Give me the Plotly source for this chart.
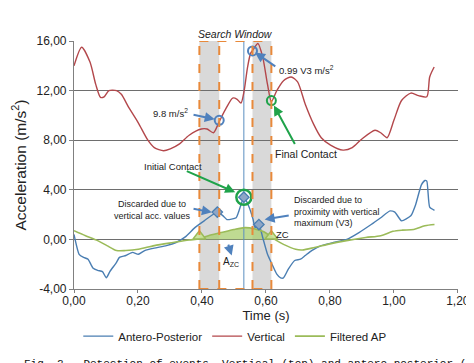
import plotly.graph_objects as go

# ---------------- data ----------------
t_vert = [0.0, 0.024, 0.05, 0.068, 0.083, 0.094, 0.109, 0.133, 0.148, 0.172, 0.201, 0.231, 0.251,
          0.28, 0.301, 0.33, 0.36, 0.398, 0.416, 0.436, 0.454, 0.476, 0.496, 0.51, 0.522, 0.532,
          0.542, 0.552, 0.56, 0.575, 0.59, 0.605, 0.617, 0.634, 0.655, 0.679, 0.699, 0.723, 0.749,
          0.773, 0.802, 0.841, 0.87, 0.9, 0.941, 0.959, 0.979, 1.0, 1.024, 1.053, 1.077, 1.103,
          1.112, 1.126]
vertical = [14.0, 15.5, 14.3, 12.5, 11.45, 11.5, 12.0, 12.0, 11.7, 10.6, 9.4, 8.0, 7.4,
            7.15, 7.3, 7.7, 8.4, 8.9, 8.9, 8.6, 9.5, 10.6, 11.4, 11.3, 11.0, 12.0,
            13.8, 15.0, 15.3, 15.8, 14.7, 12.5, 11.1, 12.0, 12.8, 13.1, 12.7, 10.9, 9.3,
            8.2, 7.6, 7.2, 7.4, 8.1, 8.8, 8.6, 8.2, 9.6, 11.2, 11.8, 11.6, 11.5,
            13.1, 13.9]

t_ap = [0.0, 0.016, 0.03, 0.044, 0.059, 0.074, 0.089, 0.101, 0.112, 0.133, 0.142, 0.162, 0.183,
        0.201, 0.221, 0.251, 0.289, 0.319, 0.348, 0.378, 0.407, 0.448, 0.466, 0.478, 0.507,
        0.522, 0.531, 0.546, 0.56, 0.566, 0.578, 0.59, 0.605, 0.619,
        0.634, 0.646, 0.655, 0.67, 0.69, 0.708, 0.723, 0.743, 0.773, 0.811, 0.853, 0.891,
        0.929, 0.959, 0.988, 1.003, 1.024, 1.053, 1.068, 1.086, 1.097, 1.103, 1.112, 1.127]
antero_posterior = [0.4, -1.2, -1.45, -1.6, -2.3, -2.5, -2.6, -3.1, -2.6, -1.85, -1.45, -1.3, -1.05,
                    -1.2, -0.9, -0.7, -0.5, -0.25, 0.2, 0.95, 1.5, 2.2, 1.9, 1.6, 1.75,
                    2.8, 3.4, 2.7, 1.6, 0.95, 1.2, 0.15, -1.2, -2.0,
                    -2.8, -3.1, -3.1, -2.4, -1.7, -1.6, -1.3, -0.9, -0.5, -0.25, 0.0, 0.55,
                    1.2, 1.75, 2.3, 2.2, 1.5, 1.9, 2.8, 4.4, 4.75, 4.7, 2.6, 2.35]
# impact spike of the AP signal at initial contact (exceeds the axis range)
t_ap_spike = [0.531, 0.531]
ap_spike = [-10.0, 25.0]

t_filt = [0.0, 0.036, 0.074, 0.103, 0.133, 0.162, 0.201, 0.251, 0.31, 0.36, 0.392, 0.42, 0.46,
          0.5, 0.535, 0.565, 0.595, 0.617, 0.634, 0.655, 0.693, 0.714, 0.752, 0.793, 0.852,
          0.912, 0.959, 0.997, 1.027, 1.062, 1.097, 1.127]
filtered_ap = [0.7, 0.3, -0.1, -0.5, -0.9, -0.9, -0.8, -0.5, -0.25, -0.05, 0.05, 0.3, 0.55,
               0.8, 0.95, 0.85, 0.6, 0.2, -0.1, -0.4, -0.8, -0.85, -0.65, -0.4, -0.1,
               0.15, 0.3, 0.65, 0.75, 0.8, 1.1, 1.2]

# detected points
zc_t = [0.392, 0.617]
zc_y = [0.25, 0.25]
vert_circ_t = [0.454, 0.558]
vert_circ_y = [9.6, 15.2]
final_t, final_y = 0.617, 11.2
init_t, init_y = 0.531, 3.4
disc_t = [0.448, 0.578]
disc_y = [2.2, 1.2]

window_edges = [0.392, 0.454, 0.558, 0.617]

x_ticks = [0.0, 0.2, 0.4, 0.6, 0.8, 1.0, 1.2]
x_tick_text = ["0,00", "0,20", "0,40", "0,60", "0,80", "1,00", "1,20"]
y_ticks = [-4, 0, 4, 8, 12, 16]
y_tick_text = ["-4,00", "0,00", "4,00", "8,00", "12,00", "16,00"]

BLUE = "#4a7eb2"
RED = "#b3474b"
GREEN = "#9bbb59"
ORANGE = "#e8893a"
ARROW_BLUE = "#4f81bd"
ARROW_GREEN = "#1fa34a"
FONT = "Liberation Sans, Arial, sans-serif"

fig = go.Figure()

# filled zero-crossing area
i0 = t_filt.index(window_edges[0])
i1 = t_filt.index(window_edges[3])
fig.add_trace(go.Scatter(x=t_filt[i0:i1 + 1], y=filtered_ap[i0:i1 + 1], mode="lines",
                         line=dict(color=GREEN, width=0, shape="spline", smoothing=0.8),
                         fill="tozeroy", fillcolor="rgba(170,205,110,0.75)",
                         showlegend=False, hoverinfo="skip"))

fig.add_trace(go.Scatter(x=t_ap, y=antero_posterior, mode="lines", name="Antero-Posterior",
                         legendgroup="ap",
                         line=dict(color=BLUE, width=1.4, shape="spline", smoothing=0.5)))
fig.add_trace(go.Scatter(x=t_ap_spike, y=ap_spike, mode="lines", showlegend=False,
                         legendgroup="ap", line=dict(color="#5b8ec0", width=1)))
fig.add_trace(go.Scatter(x=t_vert, y=vertical, mode="lines", name="Vertical",
                         line=dict(color=RED, width=1.4, shape="spline", smoothing=0.7)))
fig.add_trace(go.Scatter(x=t_filt, y=filtered_ap, mode="lines", name="Filtered AP",
                         line=dict(color=GREEN, width=1.6, shape="spline", smoothing=0.8)))

# markers
fig.add_trace(go.Scatter(x=zc_t, y=zc_y, mode="markers", showlegend=False,
                         marker=dict(symbol="triangle-up", size=11, color="rgba(200,225,150,0.9)",
                                     line=dict(color=GREEN, width=1.5))))
fig.add_trace(go.Scatter(x=disc_t + [init_t], y=disc_y + [init_y], mode="markers", showlegend=False,
                         marker=dict(symbol="diamond", size=8, color="#8fa6c6",
                                     line=dict(color=BLUE, width=1.3))))
fig.add_trace(go.Scatter(x=[init_t], y=[init_y], mode="markers", showlegend=False,
                         marker=dict(symbol="circle-open", size=15, color=ARROW_GREEN,
                                     line=dict(color=ARROW_GREEN, width=2.5))))
fig.add_trace(go.Scatter(x=vert_circ_t, y=vert_circ_y, mode="markers", showlegend=False,
                         marker=dict(symbol="circle-open", size=9, color=ARROW_BLUE,
                                     line=dict(color=ARROW_BLUE, width=2))))
fig.add_trace(go.Scatter(x=[final_t], y=[final_y], mode="markers", showlegend=False,
                         marker=dict(symbol="circle-open", size=9, color=ARROW_GREEN,
                                     line=dict(color=ARROW_GREEN, width=2))))

# search window shapes
shapes = []
for a, b in [(window_edges[0], window_edges[1]), (window_edges[2], window_edges[3])]:
    shapes.append(dict(type="rect", xref="x", yref="y", x0=a, x1=b, y0=-4, y1=16,
                       fillcolor="#d9d9d9", line=dict(width=0), layer="below"))
for e in window_edges:
    shapes.append(dict(type="line", xref="x", yref="y", x0=e, x1=e, y0=-4, y1=16,
                       line=dict(color=ORANGE, width=2, dash="dash"), layer="above"))
for yy in (16, -4):
    shapes.append(dict(type="line", xref="x", yref="y", x0=window_edges[0], x1=window_edges[3],
                       y0=yy, y1=yy, line=dict(color=ORANGE, width=2, dash="dash"), layer="above"))

ann = []
def label(x, y, text, size=9.5, align="center", xanchor="center"):
    ann.append(dict(x=x, y=y, xref="x", yref="y", text=text, showarrow=False,
                    font=dict(family=FONT, size=size, color="#222"), align=align,
                    xanchor=xanchor, yanchor="middle"))

def arrow(x0, y0, x1, y1, color):
    ann.append(dict(x=x1, y=y1, ax=x0, ay=y0, xref="x", yref="y", axref="x", ayref="y",
                    text="", showarrow=True, arrowhead=2, arrowsize=1, arrowwidth=2,
                    arrowcolor=color))

label(0.301, 10.16, "9.8 m/s<sup>2</sup>")
arrow(0.369, 10.08, 0.44, 9.68, ARROW_BLUE)
label(0.634, 13.7, "0.99 V3 m/s<sup>2</sup>", xanchor="left")
arrow(0.634, 13.87, 0.566, 15.08, ARROW_BLUE)
label(0.726, 6.85, "Final Contact", size=10.5)
arrow(0.693, 7.58, 0.625, 10.8, ARROW_GREEN)
label(0.31, 5.9, "Initial Contact")
arrow(0.348, 5.56, 0.504, 3.8, ARROW_GREEN)
label(0.245, 2.4, "Discarded due to<br>vertical acc. values", size=9)
arrow(0.369, 2.5, 0.431, 2.18, ARROW_BLUE)
label(0.681, 2.26, "Discarded due to<br>proximity with vertical<br>maximum (V3)", size=9,
      align="left", xanchor="left")
arrow(0.676, 1.94, 0.596, 1.61, ARROW_BLUE)
label(0.652, 0.4, "ZC", size=9.5)
label(0.49, -1.85, "A<sub>ZC</sub>", size=10)
arrow(0.481, -0.3, 0.493, -1.3, ARROW_BLUE)

ann.append(dict(x=0.505, y=16, xref="x", yref="y", text="<i>Search Window</i>", showarrow=False,
                font=dict(family=FONT, size=10.5, color="#222"), yanchor="bottom", yshift=-1))
ann.append(dict(x=-0.135, y=-0.272, xref="paper", yref="paper",
                text="Fig. 2.  Detection of events. Vertical (top) and antero-posterior (bottom)",
                showarrow=False, xanchor="left", yanchor="top",
                font=dict(family="Liberation Mono, DejaVu Sans Mono, monospace", size=11, color="#111")))

fig.update_layout(
    width=474, height=363,
    margin=dict(l=55, r=15, t=33, b=82),
    paper_bgcolor="white", plot_bgcolor="white",
    font=dict(family=FONT, size=12, color="#222"),
    shapes=shapes, annotations=ann,
    showlegend=True,
    legend=dict(orientation="h", x=0.42, xanchor="center", y=-0.19, yanchor="middle",
                font=dict(family=FONT, size=11.5, color="#222"), bgcolor="rgba(0,0,0,0)",
                itemwidth=30),
    xaxis=dict(range=[0, 1.2005], tickvals=x_ticks, ticktext=x_tick_text, showgrid=False,
               zeroline=False, showline=True, linecolor="#808080", linewidth=1.2,
               ticks="outside", ticklen=3, tickcolor="#808080", ticklabeloverflow="allow",
               ticklabelstandoff=-3,
               title=dict(text="Time (s)", font=dict(size=13), standoff=4)),
    yaxis=dict(range=[-4, 16], tickvals=y_ticks, ticktext=y_tick_text, showgrid=True,
               gridcolor="#6e6e6e", gridwidth=1.3, zeroline=False, showline=True,
               linecolor="#808080", linewidth=1.2, ticks="outside", ticklen=4,
               tickcolor="#808080",
               title=dict(text="Acceleration (m/s<sup>2</sup>)", font=dict(size=15.5), standoff=6)),
)

fig.write_html("out.html")
